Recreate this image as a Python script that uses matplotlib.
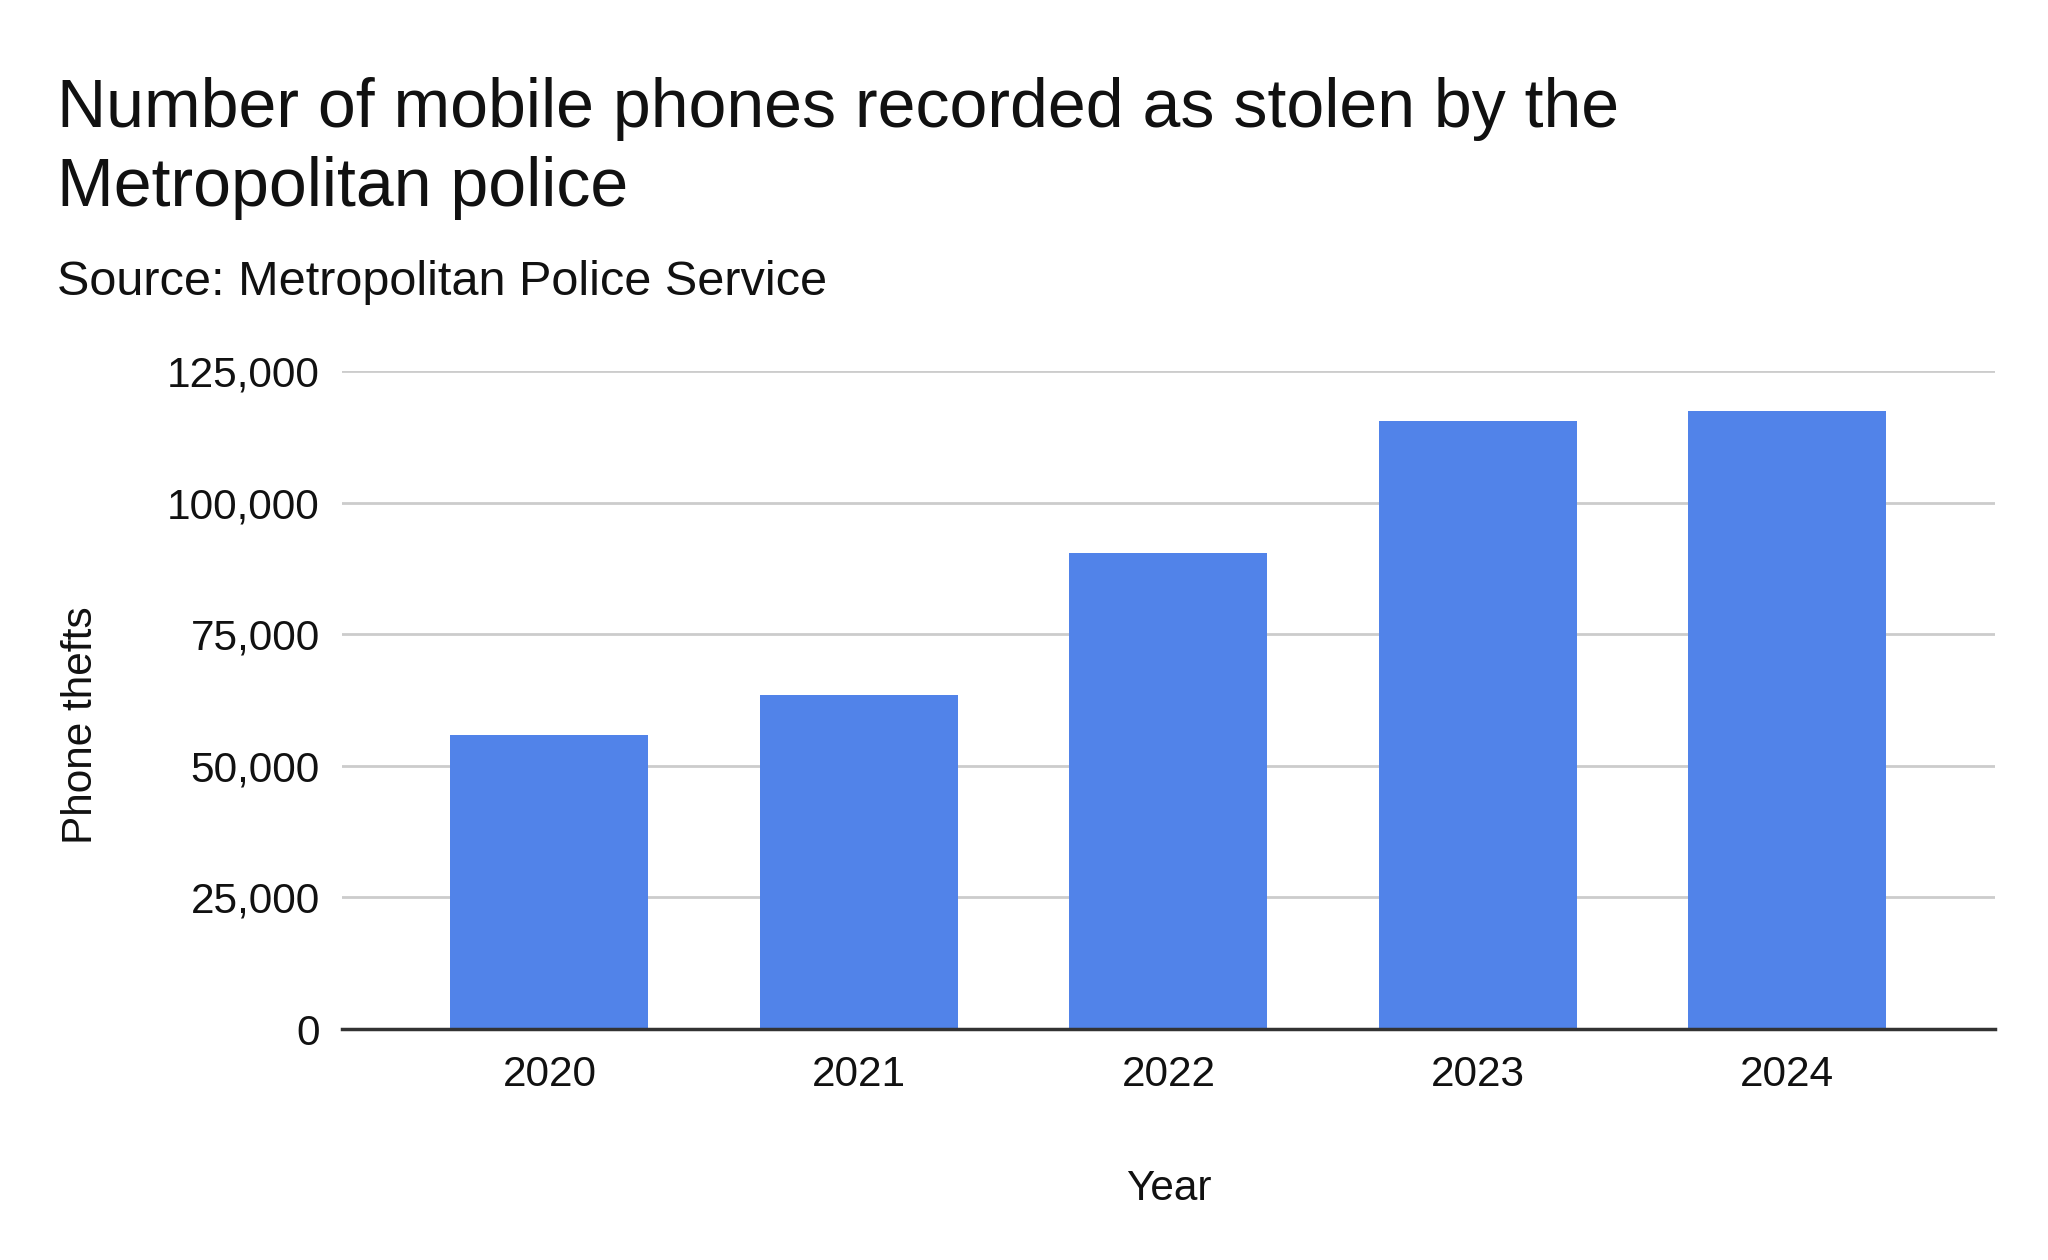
import matplotlib
matplotlib.use("Agg")
import matplotlib.pyplot as plt
from matplotlib.ticker import FuncFormatter

years = ["2020", "2021", "2022", "2023", "2024"]
phone_thefts = [55800, 63500, 90400, 115400, 117300]
y_ticks = [0, 25000, 50000, 75000, 100000, 125000]

title_lines = [
    "Number of mobile phones recorded as stolen by the",
    "Metropolitan police",
]
subtitle = "Source: Metropolitan Police Service"

plt.rcParams["font.family"] = ["Liberation Sans", "DejaVu Sans"]

fig = plt.figure(figsize=(20.48, 12.6), dpi=100)
ax = fig.add_axes([0.167, 0.1833, 0.807, 0.5223])

positions = range(len(years))
ax.bar(positions, phone_thefts, width=0.64, color="#5183E9", zorder=2)

ax.set_xlim(-0.67, len(years) - 1 + 0.67)
ax.set_ylim(0, 125000)
ax.set_xticks(list(positions))
ax.set_xticklabels(years)
ax.set_yticks(y_ticks)
ax.yaxis.set_major_formatter(FuncFormatter(lambda v, _: f"{int(v):,}"))

ax.tick_params(axis="both", length=0, labelsize=30.5, colors="#111111")
ax.tick_params(axis="y", pad=16)
ax.tick_params(axis="x", pad=19)

ax.grid(axis="y", color="#CCCCCC", linewidth=2, zorder=0)
for side in ("top", "right", "left"):
    ax.spines[side].set_visible(False)
ax.spines["bottom"].set_color("#333333")
ax.spines["bottom"].set_linewidth(2.5)
ax.spines["bottom"].set_zorder(3)

ax.set_xlabel("Year", fontsize=30.5, color="#111111")
ax.xaxis.set_label_coords(0.5, -0.212)
ax.set_ylabel("Phone thefts", fontsize=30.5, color="#111111")
ax.yaxis.set_label_coords(-0.146, 0.462)

fig.text(0.028, 1 - 127 / 1260, title_lines[0], fontsize=49, va="baseline", color="#111111")
fig.text(0.028, 1 - 206 / 1260, title_lines[1], fontsize=49, va="baseline", color="#111111")
fig.text(0.028, 1 - 295 / 1260, subtitle, fontsize=35, va="baseline", color="#111111")

fig.savefig("out.png", dpi=100, facecolor="white")
